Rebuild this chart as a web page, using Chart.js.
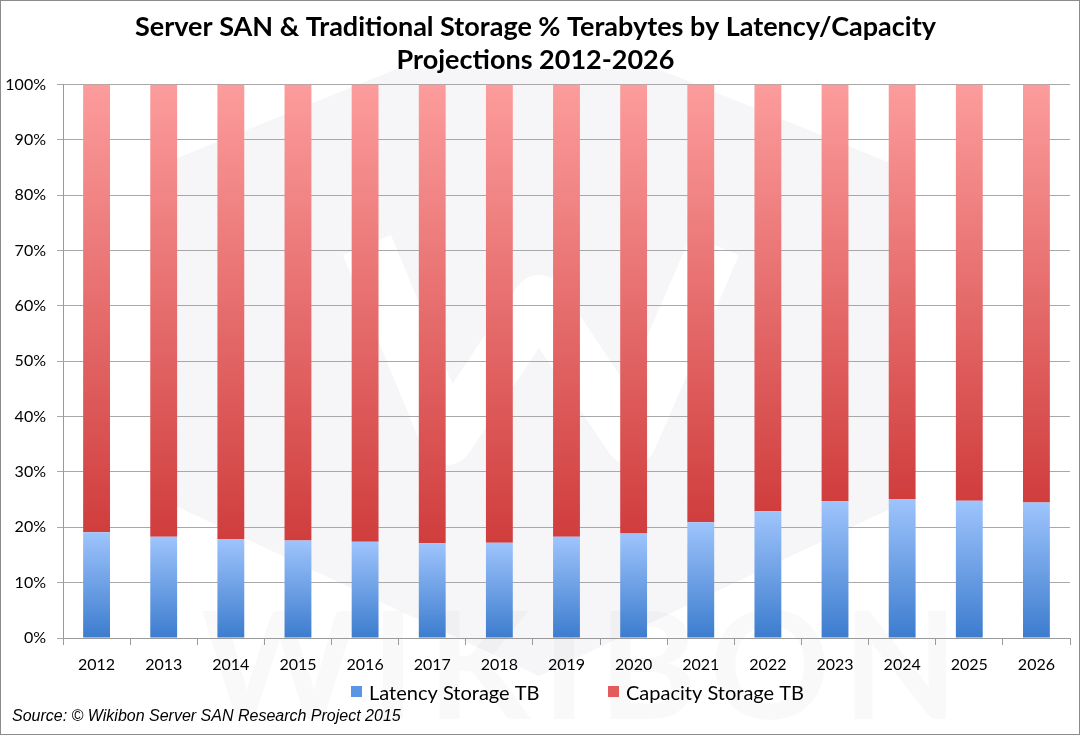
<!DOCTYPE html>
<html><head><meta charset="utf-8">
<script src="https://cdn.jsdelivr.net/npm/chart.js@4"></script>
<style>
html,body{margin:0;padding:0;background:#fff;}
#wrap{position:relative;width:1080px;height:735px;box-sizing:border-box;border:1px solid #8c8c8c;}
canvas{display:block;}
</style></head>
<body><div id="wrap"><canvas id="c" width="1078" height="733"></canvas></div>
<script>
const years = ['2012','2013','2014','2015','2016','2017','2018','2019','2020','2021','2022','2023','2024','2025','2026'];
const latencyPct = [19.1,18.3,17.9,17.6,17.4,17.1,17.2,18.3,18.9,20.9,22.9,24.7,25.1,24.8,24.5];
const capacityPct = [80.9,81.7,82.1,82.4,82.6,82.9,82.8,81.7,81.1,79.1,77.1,75.3,74.9,75.2,75.5];
const yTicks = [0,10,20,30,40,50,60,70,80,90,100];
const titleLines = ['Server SAN & Traditional Storage % Terabytes by Latency/Capacity','Projections 2012-2026'];
const seriesNames = ['Latency Storage TB','Capacity Storage TB'];
const seriesSwatch = ['#5b96e4','#e35b5b'];
const sourceText = 'Source: \u00A9 Wikibon Server SAN Research Project 2015';
const FONT = 'Lato, "Open Sans", sans-serif';

function barGrad(ctx, light, dark){
  const chart = ctx.chart;
  const ys = chart.scales && chart.scales.y;
  if(!ys || ctx.type !== 'data') return dark;
  const ds = chart.data.datasets;
  let base = 0;
  for(let i=0;i<ctx.datasetIndex;i++) base += ds[i].data[ctx.dataIndex];
  const top = base + ds[ctx.datasetIndex].data[ctx.dataIndex];
  const y0 = ys.getPixelForValue(base), y1 = ys.getPixelForValue(top);
  if(!isFinite(y0)||!isFinite(y1)||y0===y1) return dark;
  const g = chart.ctx.createLinearGradient(0,y1,0,y0);
  g.addColorStop(0,light); g.addColorStop(1,dark);
  return g;
}

// faint watermark behind the chart
const watermarkPlugin = {
  id:'watermark',
  beforeDraw(chart){
    const c = chart.ctx; c.save();
    c.beginPath(); c.rect(0,68,1078,665); c.clip();
    c.fillStyle = '#f6f6f8';
    c.beginPath();
    c.moveTo(526,15); c.lineTo(914,172); c.lineTo(914,496); c.lineTo(538,675);
    c.lineTo(164,500); c.lineTo(164,162); c.closePath(); c.fill();
    c.strokeStyle = '#ffffff'; c.lineWidth = 52; c.lineJoin = 'round'; c.lineCap = 'butt';
    c.beginPath();
    c.moveTo(366,244); c.lineTo(446,438); c.lineTo(538,300); c.lineTo(630,438); c.lineTo(714,244);
    c.stroke();
    c.restore();
    c.save();
    c.fillStyle = 'rgba(0,0,0,0.022)';
    c.font = 'bold 150px ' + FONT;
    c.textBaseline = 'alphabetic'; c.textAlign = 'left';
    try { c.letterSpacing = '12px'; } catch(e) {}
    c.fillText('WIKIBON', 200, 718);
    c.restore();
  }
};

const extrasPlugin = {
  id:'extras',
  afterDraw(chart){
    const c = chart.ctx; c.save();
    c.font = 'italic 16px "Liberation Sans", Arial, sans-serif';
    c.fillStyle = '#000'; c.textBaseline='middle'; c.textAlign='left';
    c.fillText(sourceText, 11, 716);
    // legend
    const legX = [350, 607];
    c.font = '20px ' + FONT;
    c.textBaseline = 'alphabetic';
    seriesNames.forEach((n,i)=>{
      c.fillStyle = seriesSwatch[i];
      c.fillRect(legX[i], 685, 11, 11);
      c.fillStyle = '#000';
      c.fillText(n, legX[i]+18, 699);
    });
    c.restore();
  }
};

new Chart(document.getElementById('c'), {
  type:'bar',
  data:{
    labels: years,
    datasets:[
      {label:seriesNames[0], data:latencyPct, backgroundColor:(ctx)=>barGrad(ctx,'#9ec4fc','#3c7cce'), barPercentage:0.4, categoryPercentage:1, borderWidth:0},
      {label:seriesNames[1], data:capacityPct, backgroundColor:(ctx)=>barGrad(ctx,'#fc9c9c','#d03d3d'), barPercentage:0.4, categoryPercentage:1, borderWidth:0}
    ]
  },
  options:{
    responsive:false, animation:false,
    layout:{padding:{left:0,right:9,top:0,bottom:61}},
    plugins:{
      title:{display:true, text:titleLines, color:'#000', font:{family:FONT, size:27, weight:'bold', lineHeight:1.25}, padding:{top:9,bottom:7}},
      legend:{display:false},
      tooltip:{enabled:false}
    },
    scales:{
      x:{stacked:true,
        grid:{offset:true, drawOnChartArea:false, drawTicks:true, tickLength:7, color:'#9a9a9a'},
        border:{color:'#9a9a9a', width:1},
        ticks:{color:'#000', font:{family:FONT, size:16}, padding:10, maxRotation:0},
        afterFit(s){ s.height = 35; }
      },
      y:{stacked:true, min:0, max:100,
        afterBuildTicks(s){ s.ticks = yTicks.map(v=>({value:v})); },
        grid:{color:'#a8a8a8', tickLength:6, drawTicks:true},
        border:{color:'#9a9a9a', width:1},
        ticks:{color:'#000', font:{family:FONT, size:16}, padding:11, callback:(v)=>v+'%'},
        afterFit(s){ s.width = 62; }
      }
    }
  },
  plugins:[watermarkPlugin, extrasPlugin]
});
</script></body></html>
